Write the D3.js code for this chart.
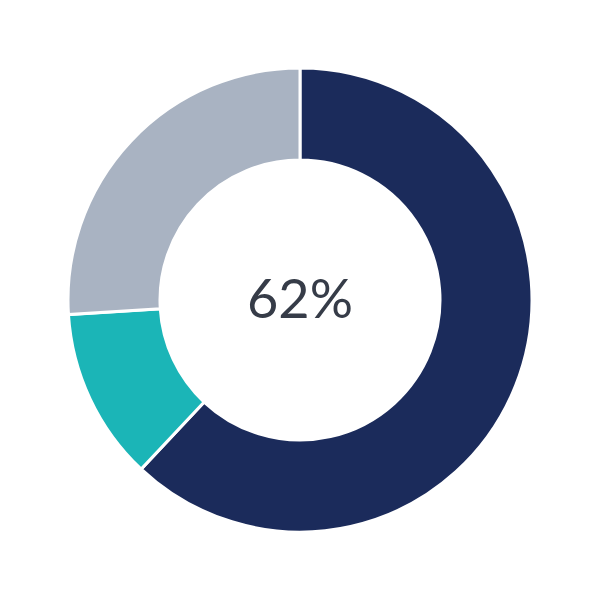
<!DOCTYPE html>
<html>
<head>
<meta charset="utf-8">
<script src="https://cdn.jsdelivr.net/npm/d3@7"></script>
<style>
  body { margin: 0; background: #fff; }
</style>
</head>
<body>
<script>
const categories = ["A", "B", "C"];
const values = [62, 12, 26];
const centerLabel = "62%";
const colors = ["#1b2b5b", "#1bb5b7", "#a9b3c2"];

const width = 600, height = 600,
      outer = 232, inner = 140;

const svg = d3.select("body").append("svg")
    .attr("width", width).attr("height", height);

const g = svg.append("g").attr("transform", `translate(${width/2},${height/2})`);

const pie = d3.pie().value(d => d.v).sort(null);
const arc = d3.arc().innerRadius(inner).outerRadius(outer);
const color = d3.scaleOrdinal().domain(categories).range(colors);

const data = categories.map((c, i) => ({ c, v: values[i] }));

g.selectAll("path")
  .data(pie(data))
  .join("path")
    .attr("d", arc)
    .attr("fill", d => color(d.data.c))
    .attr("stroke", "#fff")
    .attr("stroke-width", 3);

g.append("text")
  .attr("text-anchor", "middle")
  .attr("dy", "0.33em")
  .attr("font-family", "Lato, 'Open Sans', sans-serif")
  .attr("font-size", 54)
  .attr("fill", "#363c48")
  .text(centerLabel);
</script>
</body>
</html>
